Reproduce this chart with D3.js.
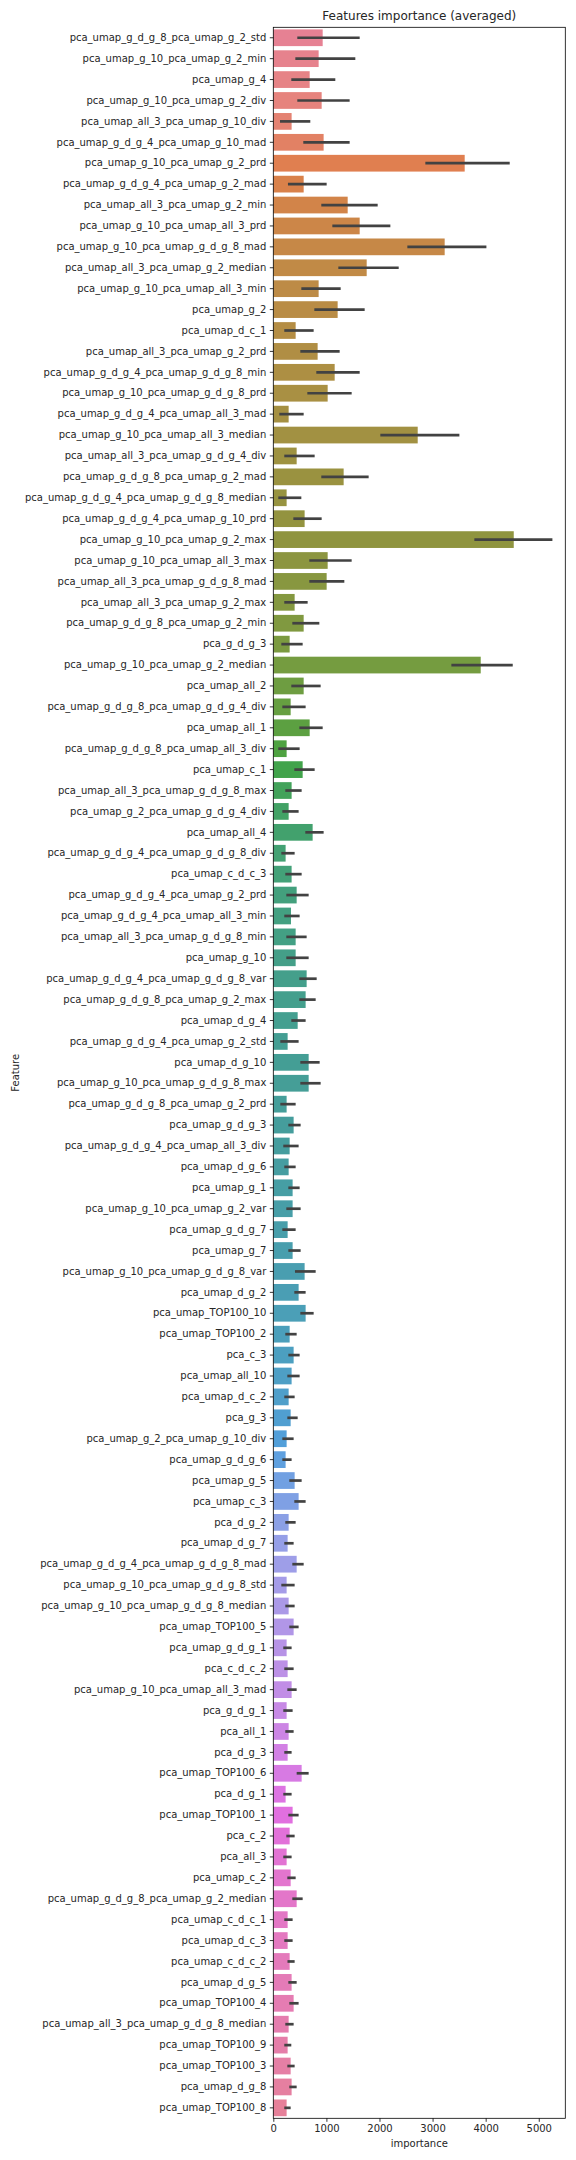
<!DOCTYPE html>
<html>
<head>
<meta charset="utf-8">
<script src="https://cdn.jsdelivr.net/npm/d3@7"></script>
<style>
  body { margin: 0; background: #fff; }
  svg text { font-family: "DejaVu Sans", sans-serif; fill: #262626; }
</style>
</head>
<body>
<script>
const features = [
  "pca_umap_g_d_g_8_pca_umap_g_2_std", "pca_umap_g_10_pca_umap_g_2_min", "pca_umap_g_4",
  "pca_umap_g_10_pca_umap_g_2_div", "pca_umap_all_3_pca_umap_g_10_div", "pca_umap_g_d_g_4_pca_umap_g_10_mad",
  "pca_umap_g_10_pca_umap_g_2_prd", "pca_umap_g_d_g_4_pca_umap_g_2_mad", "pca_umap_all_3_pca_umap_g_2_min",
  "pca_umap_g_10_pca_umap_all_3_prd", "pca_umap_g_10_pca_umap_g_d_g_8_mad", "pca_umap_all_3_pca_umap_g_2_median",
  "pca_umap_g_10_pca_umap_all_3_min", "pca_umap_g_2", "pca_umap_d_c_1",
  "pca_umap_all_3_pca_umap_g_2_prd", "pca_umap_g_d_g_4_pca_umap_g_d_g_8_min", "pca_umap_g_10_pca_umap_g_d_g_8_prd",
  "pca_umap_g_d_g_4_pca_umap_all_3_mad", "pca_umap_g_10_pca_umap_all_3_median", "pca_umap_all_3_pca_umap_g_d_g_4_div",
  "pca_umap_g_d_g_8_pca_umap_g_2_mad", "pca_umap_g_d_g_4_pca_umap_g_d_g_8_median", "pca_umap_g_d_g_4_pca_umap_g_10_prd",
  "pca_umap_g_10_pca_umap_g_2_max", "pca_umap_g_10_pca_umap_all_3_max", "pca_umap_all_3_pca_umap_g_d_g_8_mad",
  "pca_umap_all_3_pca_umap_g_2_max", "pca_umap_g_d_g_8_pca_umap_g_2_min", "pca_g_d_g_3",
  "pca_umap_g_10_pca_umap_g_2_median", "pca_umap_all_2", "pca_umap_g_d_g_8_pca_umap_g_d_g_4_div",
  "pca_umap_all_1", "pca_umap_g_d_g_8_pca_umap_all_3_div", "pca_umap_c_1",
  "pca_umap_all_3_pca_umap_g_d_g_8_max", "pca_umap_g_2_pca_umap_g_d_g_4_div", "pca_umap_all_4",
  "pca_umap_g_d_g_4_pca_umap_g_d_g_8_div", "pca_umap_c_d_c_3", "pca_umap_g_d_g_4_pca_umap_g_2_prd",
  "pca_umap_g_d_g_4_pca_umap_all_3_min", "pca_umap_all_3_pca_umap_g_d_g_8_min", "pca_umap_g_10",
  "pca_umap_g_d_g_4_pca_umap_g_d_g_8_var", "pca_umap_g_d_g_8_pca_umap_g_2_max", "pca_umap_d_g_4",
  "pca_umap_g_d_g_4_pca_umap_g_2_std", "pca_umap_d_g_10", "pca_umap_g_10_pca_umap_g_d_g_8_max",
  "pca_umap_g_d_g_8_pca_umap_g_2_prd", "pca_umap_g_d_g_3", "pca_umap_g_d_g_4_pca_umap_all_3_div",
  "pca_umap_d_g_6", "pca_umap_g_1", "pca_umap_g_10_pca_umap_g_2_var",
  "pca_umap_g_d_g_7", "pca_umap_g_7", "pca_umap_g_10_pca_umap_g_d_g_8_var",
  "pca_umap_d_g_2", "pca_umap_TOP100_10", "pca_umap_TOP100_2",
  "pca_c_3", "pca_umap_all_10", "pca_umap_d_c_2",
  "pca_g_3", "pca_umap_g_2_pca_umap_g_10_div", "pca_umap_g_d_g_6",
  "pca_umap_g_5", "pca_umap_c_3", "pca_d_g_2",
  "pca_umap_d_g_7", "pca_umap_g_d_g_4_pca_umap_g_d_g_8_mad", "pca_umap_g_10_pca_umap_g_d_g_8_std",
  "pca_umap_g_10_pca_umap_g_d_g_8_median", "pca_umap_TOP100_5", "pca_umap_g_d_g_1",
  "pca_c_d_c_2", "pca_umap_g_10_pca_umap_all_3_mad", "pca_g_d_g_1",
  "pca_all_1", "pca_d_g_3", "pca_umap_TOP100_6",
  "pca_d_g_1", "pca_umap_TOP100_1", "pca_c_2",
  "pca_all_3", "pca_umap_c_2", "pca_umap_g_d_g_8_pca_umap_g_2_median",
  "pca_umap_c_d_c_1", "pca_umap_d_c_3", "pca_umap_c_d_c_2",
  "pca_umap_d_g_5", "pca_umap_TOP100_4", "pca_umap_all_3_pca_umap_g_d_g_8_median",
  "pca_umap_TOP100_9", "pca_umap_TOP100_3", "pca_umap_d_g_8",
  "pca_umap_TOP100_8"
];

// mean importance per feature
const importance = [
  930, 854, 685, 911, 345, 948, 3605, 572, 1401, 1627,
  3228, 1759, 854, 1212, 421, 835, 1156, 1024, 289, 2720,
  440, 1325, 251, 590, 4529, 1024, 1005, 402, 572, 308,
  3907, 572, 327, 685, 251, 553, 345, 289, 741, 232,
  345, 440, 333, 421, 421, 628, 609, 459, 270, 666,
  666, 251, 383, 308, 289, 364, 364, 270, 364, 590,
  477, 609, 308, 383, 345, 289, 327, 251, 232, 402,
  477, 289, 270, 440, 251, 289, 383, 251, 270, 345,
  251, 289, 270, 534, 232, 364, 308, 251, 327, 440,
  270, 270, 308, 345, 383, 289, 270, 327, 345, 251
];

// confidence interval, low end
const ciLow = [
  452, 415, 339, 452, 126, 565, 2864, 276, 904, 1112,
  2525, 1225, 528, 773, 207, 509, 810, 641, 113, 2016,
  207, 904, 94, 377, 3787, 678, 678, 207, 358, 151,
  3354, 339, 170, 490, 94, 396, 226, 170, 603, 151,
  226, 245, 207, 245, 245, 490, 490, 339, 132, 509,
  509, 132, 283, 188, 207, 283, 245, 170, 283, 408,
  396, 509, 226, 283, 264, 207, 264, 170, 170, 301,
  396, 226, 207, 358, 151, 226, 301, 188, 207, 264,
  188, 226, 207, 440, 188, 283, 245, 188, 264, 358,
  207, 207, 267, 283, 301, 226, 207, 264, 301, 207
];

// confidence interval, high end
const ciHigh = [
  1627, 1545, 1168, 1438, 697, 1438, 4453, 1005, 1966, 2205,
  4014, 2362, 1269, 1721, 760, 1250, 1627, 1476, 572, 3505,
  779, 1796, 528, 911, 5257, 1476, 1338, 647, 867, 553,
  4510, 892, 609, 930, 496, 779, 534, 477, 948, 402,
  534, 666, 496, 628, 666, 817, 798, 609, 477, 873,
  892, 421, 515, 477, 421, 496, 515, 421, 515, 798,
  609, 760, 440, 496, 496, 402, 459, 383, 345, 534,
  609, 421, 383, 572, 402, 402, 477, 345, 383, 440,
  364, 383, 345, 666, 345, 477, 402, 345, 421, 553,
  364, 364, 402, 440, 477, 383, 339, 402, 440, 327
];

const xTicks = [0, 1000, 2000, 3000, 4000, 5000];

// --- husl colours, same recipe seaborn uses for its default many-colour palette
const M = [[3.2406, -1.5372, -0.4986], [-0.9689, 1.8758, 0.0415], [0.0557, -0.2040, 1.0570]];
const refU = 0.19784, refV = 0.46834, labE = 0.008856, labK = 903.3;

function maxChroma(L, H){
    const hrad = H / 360 * 2 * Math.PI;
    const sinH = Math.sin(hrad), cosH = Math.cos(hrad);
    const sub1 = Math.pow(L + 16, 3) / 1560896;
    const sub2 = sub1 > labE ? sub1 : L / labK;
    let result = Infinity;
    M.forEach(([m1, m2, m3]) => {
        const top = (0.99915 * m1 + 1.05122 * m2 + 1.14460 * m3) * sub2;
        const rbottom = 0.86330 * m3 - 0.17266 * m2;
        const lbottom = 0.12949 * m3 - 0.38848 * m1;
        const bottom = (rbottom * sinH + lbottom * cosH) * sub2;
        [0, 1].forEach(t => {
            const C = L * (top - 1.05122 * t) / (bottom + 0.17266 * sinH * t);
            if (C > 0 && C < result) result = C;
        });
    });
    return result;
}

function huslToRgb(H, S, L){
    const C = maxChroma(L, H) / 100 * S;
    const hrad = H / 360 * 2 * Math.PI;
    const U = Math.cos(hrad) * C, V = Math.sin(hrad) * C;
    const t = (L + 16) / 116;
    const Y = Math.pow(t, 3) > labE ? Math.pow(t, 3) : (116 * t - 16) / labK;
    const varU = U / (13 * L) + refU;
    const varV = V / (13 * L) + refV;
    const X = 0 - (9 * Y * varU) / ((varU - 4) * varV - varU * varV);
    const Z = (9 * Y - 15 * varV * Y - varV * X) / (3 * varV);
    return M.map(r => {
        let c = r[0] * X + r[1] * Y + r[2] * Z;
        c = c <= 0.0031308 ? 12.92 * c : 1.055 * Math.pow(c, 1 / 2.4) - 0.055;
        return Math.max(0, Math.min(1, c));
    });
}

function barColors(n){
    const out = [];
    for (let i = 0; i < n; i++){
        const h = ((i / n + 0.01) % 1) * 359;
        const [r, g, b] = huslToRgb(h, 0.9 * 99, 0.65 * 99);
        const c = d3.hsl(d3.rgb(r * 255, g * 255, b * 255));
        c.s *= 0.75;
        out.push(c.formatHex());
    }
    return out;
}

const width = 576, height = 2160;
const margin = {top: 27.3, right: 10.7, bottom: 41.7, left: 273.3};
const colors = barColors(features.length);

const svg = d3.select("body").append("svg")
    .attr("width", width)
    .attr("height", height);

const x = d3.scaleLinear()
    .domain([0, 5500])
    .range([margin.left, width - margin.right]);

const y = d3.scaleBand()
    .domain(features)
    .range([margin.top, height - margin.bottom])
    .paddingInner(0.2)
    .paddingOuter(0.1);

const bars = svg.append('g').attr('id', 'bars');
bars.selectAll("rect")
    .data(features)
    .enter().append("rect")
    .attr("x", x(0))
    .attr("y", d => y(d))
    .attr("width", (d, i) => x(importance[i]) - x(0))
    .attr("height", y.bandwidth())
    .style("fill", (d, i) => colors[i]);

const errs = svg.append('g').attr('id', 'errbars');
errs.selectAll("line")
    .data(features)
    .enter().append("line")
    .attr("x1", (d, i) => x(ciLow[i]))
    .attr("x2", (d, i) => x(ciHigh[i]))
    .attr("y1", d => y(d) + y.bandwidth() / 2)
    .attr("y2", d => y(d) + y.bandwidth() / 2)
    .style("stroke", "#424242")
    .style("stroke-width", 2.7);

const xAxis = svg.append("g")
    .attr("transform", "translate(0," + (height - margin.bottom) + ")")
    .call(d3.axisBottom(x).tickValues(xTicks).tickFormat(d3.format("d")).tickSizeOuter(0).tickSize(3.5).tickPadding(3.5));

const yAxis = svg.append("g")
    .attr("transform", "translate(" + margin.left + ",0)")
    .call(d3.axisLeft(y).tickSizeOuter(0).tickSize(3.5).tickPadding(3.5));

[xAxis, yAxis].forEach(ax => {
    ax.select(".domain").remove();
    ax.selectAll(".tick line").style("stroke", "#000").style("stroke-width", 0.8);
    ax.selectAll(".tick text")
        .style("font-family", "'DejaVu Sans', sans-serif")
        .style("font-size", "10px")
        .style("fill", "#262626");
});

// frame
svg.append("rect")
    .attr("x", margin.left)
    .attr("y", margin.top)
    .attr("width", width - margin.right - margin.left)
    .attr("height", height - margin.bottom - margin.top)
    .style("fill", "none")
    .style("stroke", "#000")
    .style("stroke-width", 0.8);

svg.append("text")
    .attr("x", (margin.left + width - margin.right) / 2)
    .attr("y", 16)
    .attr("dy", "0.35em")
    .attr("text-anchor", "middle")
    .style("font-size", "12px")
    .text("Features importance (averaged)");

svg.append("text")
    .attr("x", (margin.left + width - margin.right) / 2)
    .attr("y", 2143)
    .attr("dy", "0.35em")
    .attr("text-anchor", "middle")
    .style("font-size", "10px")
    .text("importance");

svg.append("text")
    .attr("transform", "translate(15.7," + ((margin.top + height - margin.bottom) / 2) + ") rotate(-90)")
    .attr("dy", "0.35em")
    .attr("text-anchor", "middle")
    .style("font-size", "10px")
    .text("Feature");
</script>
</body>
</html>
